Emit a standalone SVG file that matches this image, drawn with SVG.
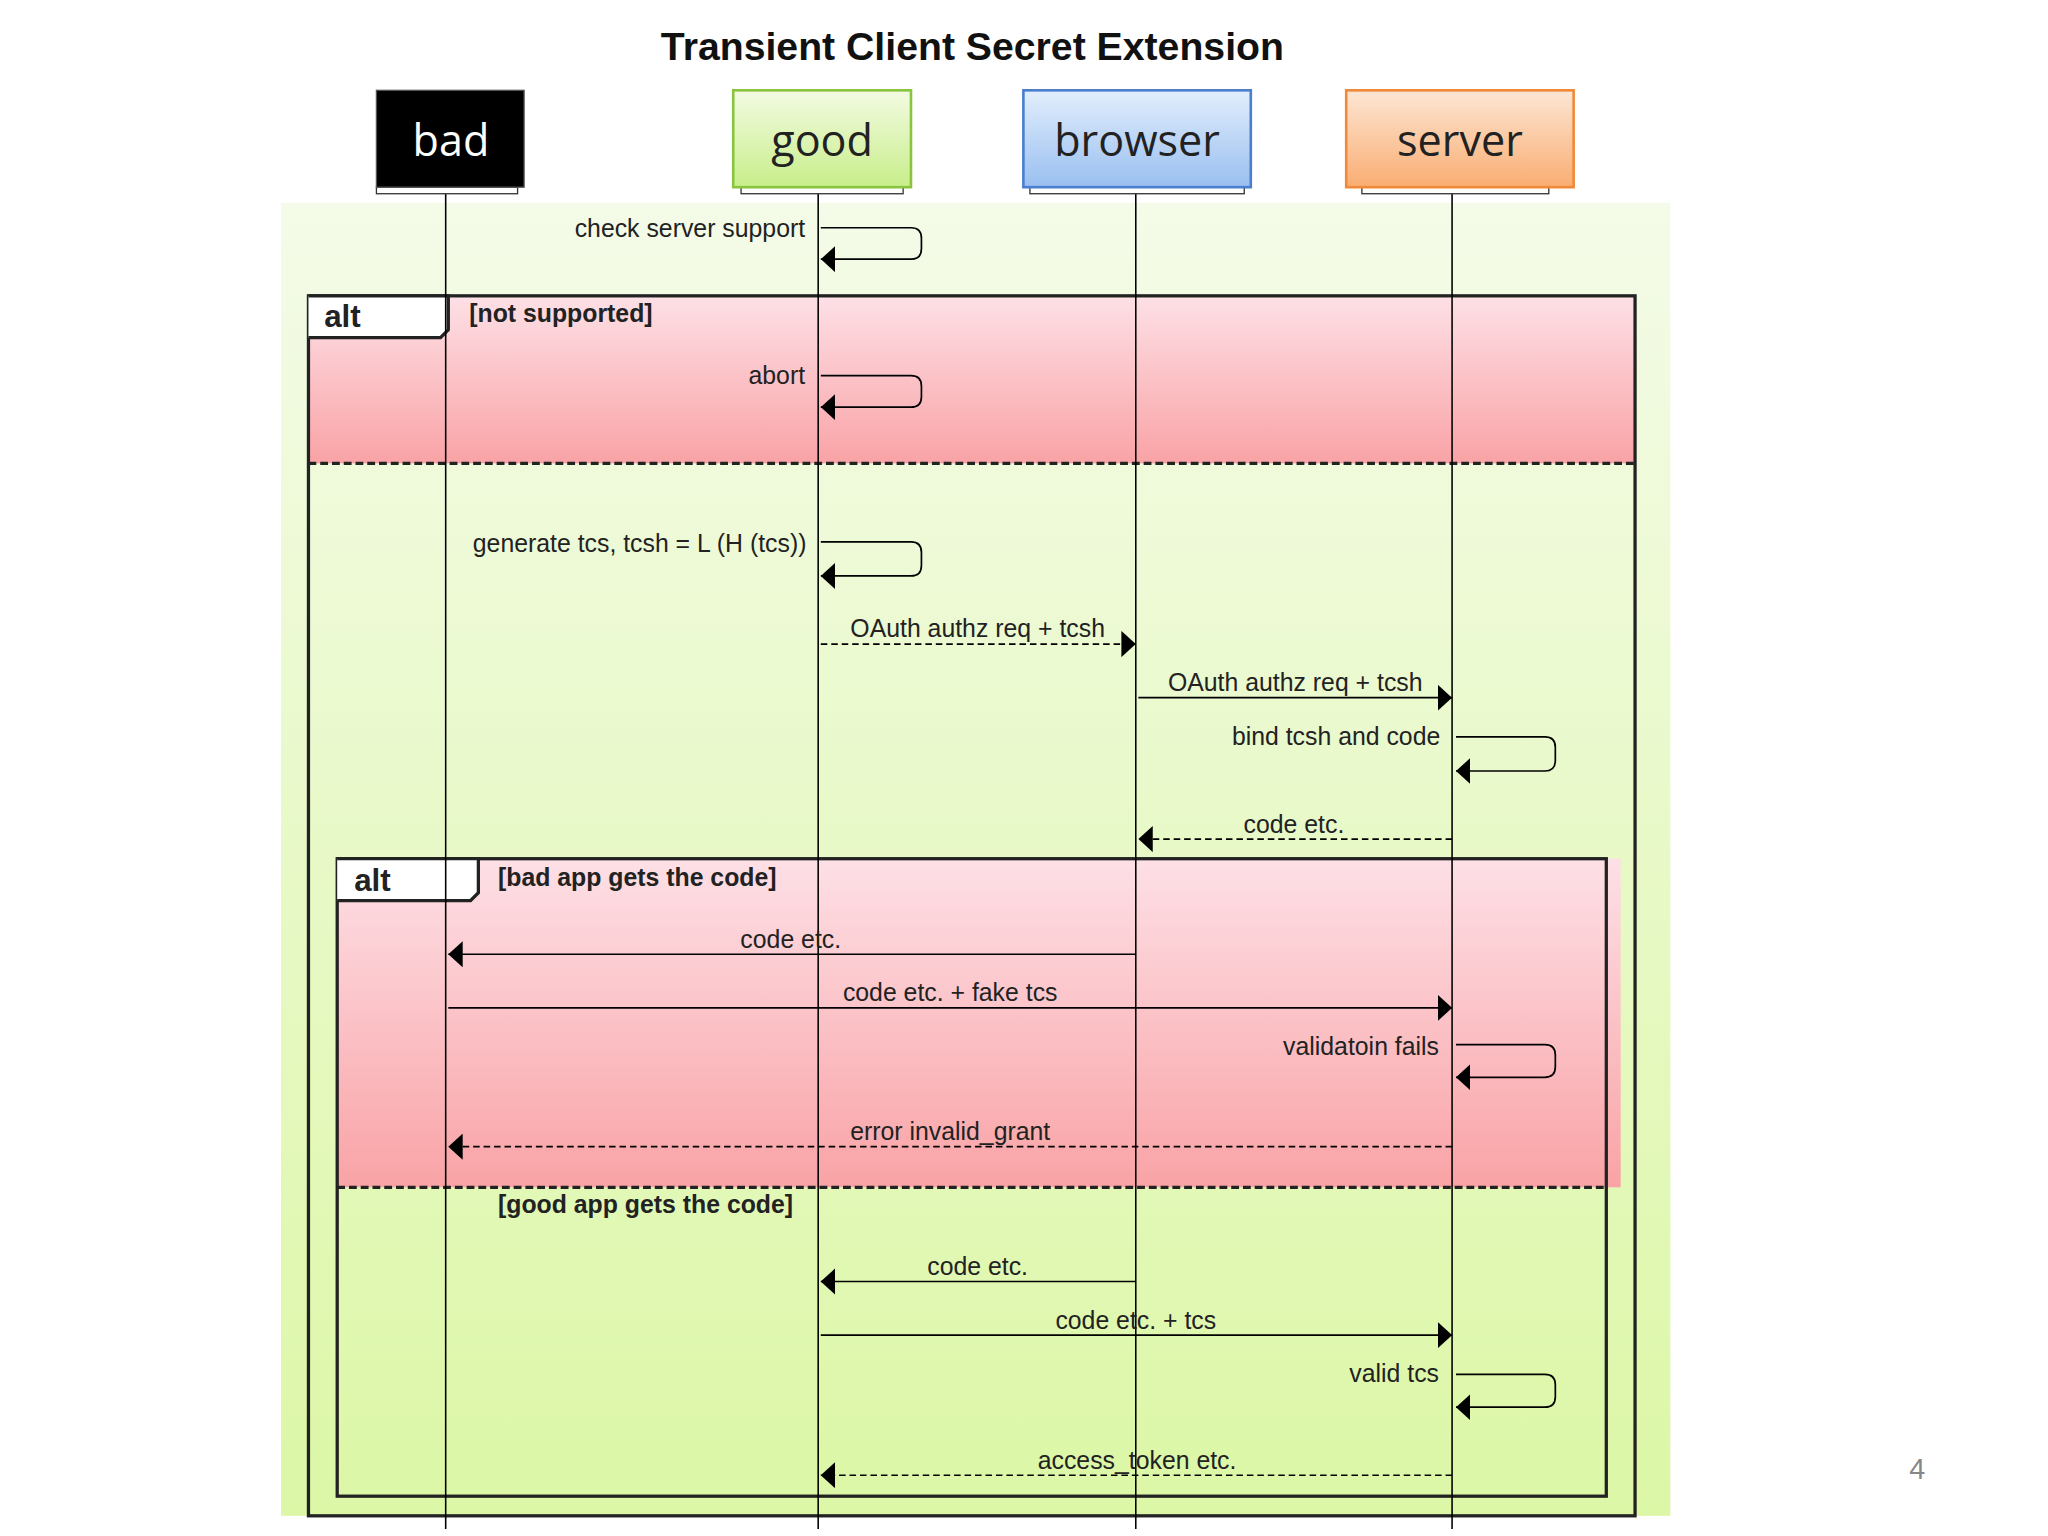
<svg xmlns="http://www.w3.org/2000/svg" width="2048" height="1536" viewBox="0 0 2048 1536">
<defs>
<linearGradient id="gbg" x1="0" y1="0" x2="0" y2="1"><stop offset="0" stop-color="#f4fbe8"/><stop offset="1" stop-color="#dcf7a6"/></linearGradient>
<linearGradient id="pk" x1="0" y1="0" x2="0" y2="1"><stop offset="0" stop-color="#fde0e6"/><stop offset="1" stop-color="#f9a3a6"/></linearGradient>
<linearGradient id="hgood" x1="0" y1="0" x2="0" y2="1"><stop offset="0" stop-color="#f3fbe2"/><stop offset="1" stop-color="#c8ee8a"/></linearGradient>
<linearGradient id="hbr" x1="0" y1="0" x2="0" y2="1"><stop offset="0" stop-color="#e2eefc"/><stop offset="1" stop-color="#99bff0"/></linearGradient>
<linearGradient id="hsv" x1="0" y1="0" x2="0" y2="1"><stop offset="0" stop-color="#fde6d4"/><stop offset="1" stop-color="#f9ad72"/></linearGradient>
<marker id="ah" viewBox="0 0 10 10" refX="10" refY="5" markerWidth="11" markerHeight="20" markerUnits="userSpaceOnUse" orient="auto" preserveAspectRatio="none"><path d="M0,0 L10,5 L0,10 Z" fill="#000"/></marker>
</defs>
<style>
text{font-family:"Liberation Sans",Arial,sans-serif;font-size:19px;fill:#222}
.h{font-family:"Open Sans","Liberation Sans",sans-serif;font-size:33px}
.b{font-weight:bold}
.m{stroke:#000;stroke-width:1.3;fill:none;marker-end:url(#ah)}
.d{stroke-dasharray:5,3}
.ll{stroke:#000;stroke-width:1.2}
</style>
<rect width="2048" height="1536" fill="#fff"/>
<g transform="scale(1.307,1.309)">
<text x="744" y="46" text-anchor="middle" class="b" style="font-size:30px;fill:#111">Transient Client Secret Extension</text>
<rect x="215" y="155" width="1063" height="1003" fill="url(#gbg)"/>
<g id="frames" stroke="#222" stroke-width="2.5">
<rect x="236" y="226" width="1015" height="128" fill="url(#pk)" stroke="none"/>
<rect x="236" y="226" width="1015" height="932" fill="none"/>
<line x1="236" y1="354" x2="1251" y2="354" stroke-dasharray="6,3"/>
<path d="M236,226 H343 V252 L337,258 H236" fill="#fff"/>
<rect x="258" y="656" width="982" height="251" fill="url(#pk)" stroke="none"/>
<rect x="258" y="656" width="971" height="487" fill="none"/>
<line x1="258" y1="907" x2="1229" y2="907" stroke-dasharray="6,3"/>
<path d="M258,656 H366 V682 L360,688 H258" fill="#fff"/>
</g>
<text x="248" y="250" class="b" style="font-size:24px">alt</text>
<text x="359" y="246" class="b">[not supported]</text>
<text x="271" y="681" class="b" style="font-size:24px">alt</text>
<text x="381" y="677" class="b">[bad app gets the code]</text>
<text x="381" y="927" class="b">[good app gets the code]</text>
<g id="lifelines" class="ll"><line x1="341" y1="147" x2="341" y2="1168"/><line x1="626" y1="147" x2="626" y2="1168"/><line x1="869" y1="147" x2="869" y2="1168"/><line x1="1111" y1="147" x2="1111" y2="1168"/></g>
<g id="bad"><rect x="288" y="143" width="108" height="5" fill="#fff" stroke="#333"/><rect x="288" y="69" width="113" height="74" fill="#000" stroke="#555"/><text x="345" y="119" text-anchor="middle" class="h" style="fill:#fff">bad</text></g>
<g id="good"><rect x="567" y="143" width="124" height="5" fill="#fff" stroke="#333"/><rect x="561" y="69" width="136" height="74" fill="url(#hgood)" stroke="#8ac43f" stroke-width="2"/><text x="629" y="119" text-anchor="middle" class="h">good</text></g>
<g id="browser"><rect x="788" y="143" width="164" height="5" fill="#fff" stroke="#333"/><rect x="783" y="69" width="174" height="74" fill="url(#hbr)" stroke="#4a7fd0" stroke-width="2"/><text x="870" y="119" text-anchor="middle" class="h">browser</text></g>
<g id="server"><rect x="1042" y="143" width="143" height="5" fill="#fff" stroke="#333"/><rect x="1030" y="69" width="174" height="74" fill="url(#hsv)" stroke="#f08a3a" stroke-width="2"/><text x="1117" y="119" text-anchor="middle" class="h">server</text></g>
<g id="connectors">
<path class="m" d="M628,174 H697 Q705,174 705,182 V190 Q705,198 697,198 H628"/>
<path class="m" d="M628,287 H697 Q705,287 705,295 V303 Q705,311 697,311 H628"/>
<path class="m" d="M628,414 H697 Q705,414 705,422 V432 Q705,440 697,440 H628"/>
<path class="m d" d="M628,492 H869"/>
<path class="m" d="M871,533 H1111"/>
<path class="m" d="M1114,563 H1182 Q1190,563 1190,571 V581 Q1190,589 1182,589 H1114"/>
<path class="m d" d="M1111,641 H871"/>
<path class="m" d="M869,729 H343"/>
<path class="m" d="M343,770 H1111"/>
<path class="m" d="M1114,798 H1182 Q1190,798 1190,806 V815 Q1190,823 1182,823 H1114"/>
<path class="m d" d="M1111,876 H343"/>
<path class="m" d="M869,979 H628"/>
<path class="m" d="M628,1020 H1111"/>
<path class="m" d="M1114,1050 H1182 Q1190,1050 1190,1058 V1067 Q1190,1075 1182,1075 H1114"/>
<path class="m d" d="M1111,1127 H628"/>
</g>
<g id="labels">
<text x="616" y="181" text-anchor="end">check server support</text>
<text x="616" y="293" text-anchor="end">abort</text>
<text x="617" y="422" text-anchor="end">generate tcs, tcsh = L (H (tcs))</text>
<text x="748" y="487" text-anchor="middle">OAuth authz req + tcsh</text>
<text x="991" y="528" text-anchor="middle">OAuth authz req + tcsh</text>
<text x="1102" y="569" text-anchor="end">bind tcsh and code</text>
<text x="990" y="636" text-anchor="middle">code etc.</text>
<text x="605" y="724" text-anchor="middle">code etc.</text>
<text x="727" y="765" text-anchor="middle">code etc. + fake tcs</text>
<text x="1101" y="806" text-anchor="end">validatoin fails</text>
<text x="727" y="871" text-anchor="middle">error invalid_grant</text>
<text x="748" y="974" text-anchor="middle">code etc.</text>
<text x="869" y="1015" text-anchor="middle">code etc. + tcs</text>
<text x="1101" y="1056" text-anchor="end">valid tcs</text>
<text x="870" y="1122" text-anchor="middle">access_token etc.</text>
</g>
<text x="1467" y="1130" text-anchor="middle" style="font-size:22px;fill:#888">4</text>
</g>
</svg>
